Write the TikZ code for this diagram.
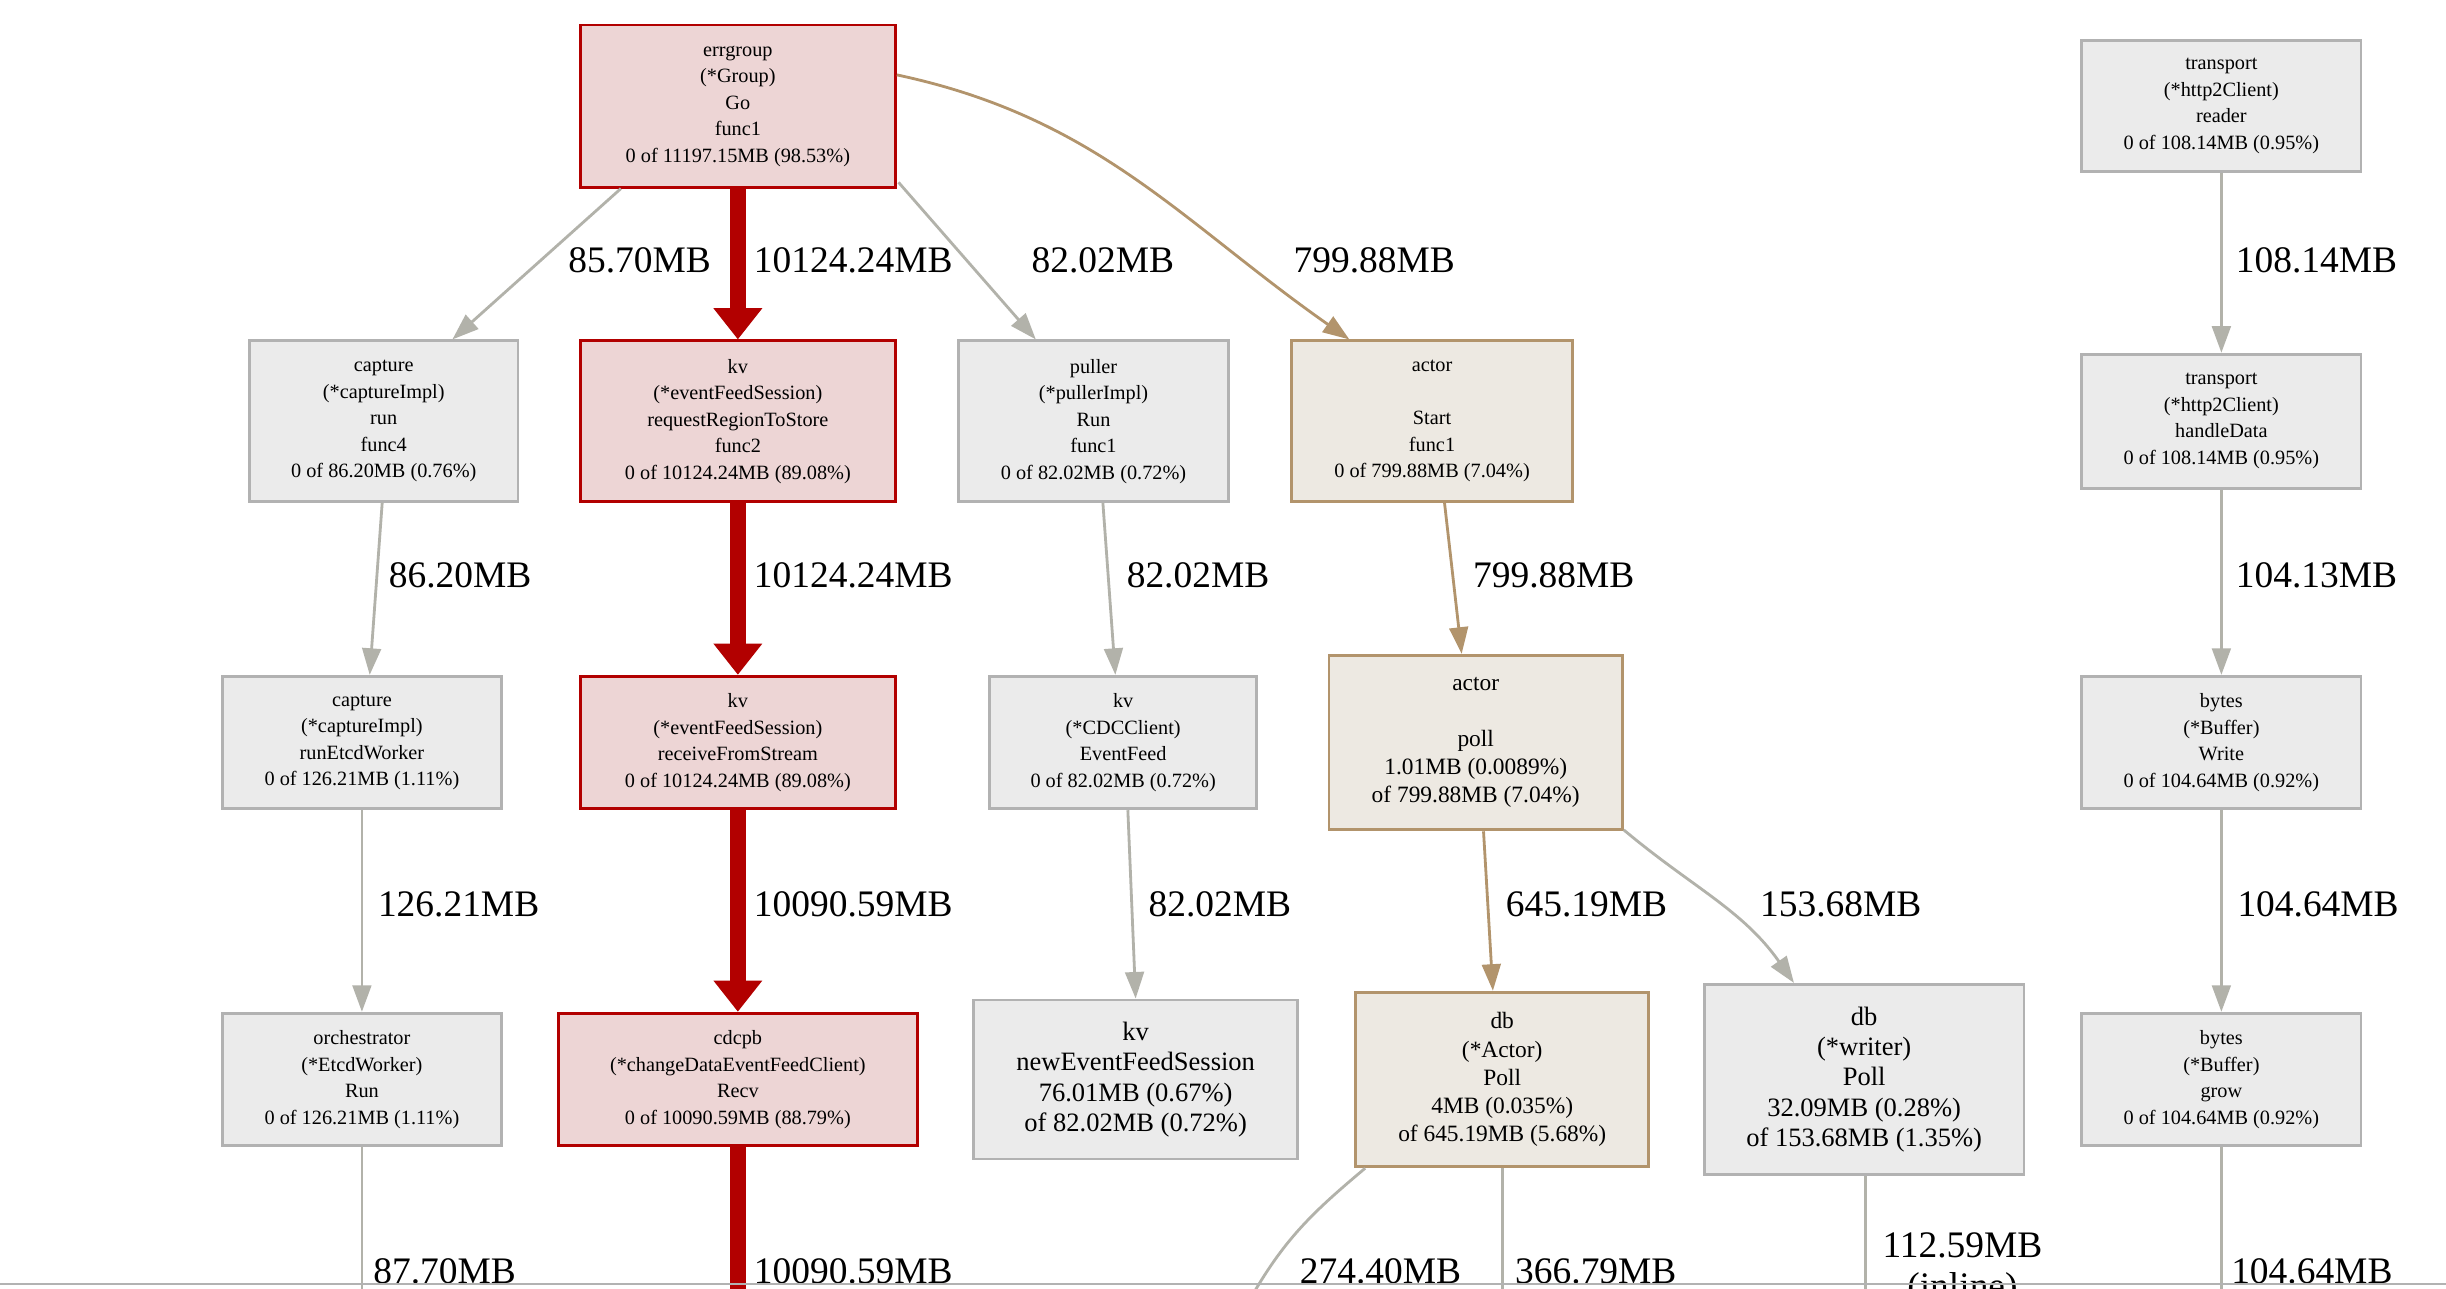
\documentclass[tikz,border=0pt]{standalone}
\usepackage{fontspec}
\setmainfont{Liberation Serif}
\usetikzlibrary{positioning, calc, arrows.meta}
\definecolor{grayfill}{HTML}{EBEBEB}
\definecolor{graydraw}{HTML}{B2B2B2}
\definecolor{redfill}{HTML}{EDD5D5}
\definecolor{reddraw}{HTML}{B20000}
\definecolor{tanfill}{HTML}{EDE9E2}
\definecolor{tandraw}{HTML}{B2946C}
\definecolor{grayedge}{HTML}{B2B2AA}
\tikzset{
  box/.style={draw=graydraw, fill=grayfill, line width=1.8pt, align=center, inner sep=2pt,
    font=\fontsize{13}{17}\selectfont},
  hotbox/.style={box, draw=reddraw, fill=redfill},
  tanbox/.style={box, draw=tandraw, fill=tanfill},
  bigtext/.style={font=\fontsize{17}{19.5}\selectfont},
  edge/.style={draw=grayedge, line width=1.8pt, -{Triangle[length=17pt,width=12pt]}},
  hotedge/.style={draw=reddraw, line width=10pt, -{Triangle[length=20pt,width=30pt]}},
  tanedge/.style={edge, draw=tandraw},
  lbl/.style={font=\fontsize{24}{26}\selectfont, inner sep=0pt}
}
\begin{document}
\begin{tikzpicture}[x=1pt,y=-1pt]
\useasboundingbox[fill=white] (0,0) rectangle (1568,826);
% nodes, row 1
\node[hotbox, minimum width=202pt, minimum height=104pt] (err) at (473,68) {errgroup\\(*Group)\\Go\\func1\\0 of 11197.15MB (98.53\%)};
\node[box, minimum width=179pt, minimum height=84pt] (tr1) at (1424,68) {transport\\(*http2Client)\\reader\\0 of 108.14MB (0.95\%)};
% row 2
\node[box, minimum width=172pt, minimum height=103pt] (cap1) at (246,270) {capture\\(*captureImpl)\\run\\func4\\0 of 86.20MB (0.76\%)};
\node[hotbox, minimum width=202pt, minimum height=103pt] (kv1) at (473,270) {kv\\(*eventFeedSession)\\requestRegionToStore\\func2\\0 of 10124.24MB (89.08\%)};
\node[box, minimum width=173pt, minimum height=103pt] (pul) at (701,270) {puller\\(*pullerImpl)\\Run\\func1\\0 of 82.02MB (0.72\%)};
\node[tanbox, minimum width=180pt, minimum height=103pt] (act1) at (918,270) {actor\\\mbox{}\\Start\\func1\\0 of 799.88MB (7.04\%)};
\node[box, minimum width=179pt, minimum height=86pt] (tr2) at (1424,270) {transport\\(*http2Client)\\handleData\\0 of 108.14MB (0.95\%)};
% row 3
\node[box, minimum width=179pt, minimum height=85pt] (cap2) at (232,476) {capture\\(*captureImpl)\\runEtcdWorker\\0 of 126.21MB (1.11\%)};
\node[hotbox, minimum width=202pt, minimum height=85pt] (kv2) at (473,476) {kv\\(*eventFeedSession)\\receiveFromStream\\0 of 10124.24MB (89.08\%)};
\node[box, minimum width=171pt, minimum height=85pt] (kv3) at (720,476) {kv\\(*CDCClient)\\EventFeed\\0 of 82.02MB (0.72\%)};
\node[tanbox, font=\fontsize{15}{18}\selectfont, minimum width=188pt, minimum height=112pt] (act2) at (946,476) {actor\\\mbox{}\\poll\\1.01MB (0.0089\%)\\of 799.88MB (7.04\%)};
\node[box, minimum width=179pt, minimum height=85pt] (by1) at (1424,476) {bytes\\(*Buffer)\\Write\\0 of 104.64MB (0.92\%)};
% row 4
\node[box, minimum width=179pt, minimum height=85pt] (orc) at (232,692) {orchestrator\\(*EtcdWorker)\\Run\\0 of 126.21MB (1.11\%)};
\node[hotbox, minimum width=230pt, minimum height=85pt] (cdc) at (473,692) {cdcpb\\(*changeDataEventFeedClient)\\Recv\\0 of 10090.59MB (88.79\%)};
\node[box, bigtext, minimum width=208pt, minimum height=102pt] (kv4) at (728,692) {kv\\newEventFeedSession\\76.01MB (0.67\%)\\of 82.02MB (0.72\%)};
\node[tanbox, font=\fontsize{15}{18}\selectfont, minimum width=188pt, minimum height=112pt] (db1) at (963,692) {db\\(*Actor)\\Poll\\4MB (0.035\%)\\of 645.19MB (5.68\%)};
\node[box, bigtext, minimum width=205pt, minimum height=122pt] (db2) at (1195,692) {db\\(*writer)\\Poll\\32.09MB (0.28\%)\\of 153.68MB (1.35\%)};
\node[box, minimum width=179pt, minimum height=85pt] (by2) at (1424,692) {bytes\\(*Buffer)\\grow\\0 of 104.64MB (0.92\%)};
% free ends at the bottom
\coordinate (e1) at (232,830);
\coordinate (e2) at (473,830);
\coordinate (e3) at (803,830);
\coordinate (e4) at (963,830);
\coordinate (e5) at (1196,830);
\coordinate (e6) at (1424,830);
% connectors
\draw[edge] ([xshift=-75pt]err.south) -- ([xshift=44pt]cap1.north);
\draw[hotedge] (err) -- (kv1);
\draw[edge] ([xshift=103pt,yshift=4pt]err.south) -- ([xshift=-37pt]pul.north);
\draw[tanedge] ([yshift=20pt]err.east) to[out=-12,in=145] ([xshift=-53pt]act1.north);
\draw[edge] (tr1) -- (tr2);
\draw[edge] ([xshift=-1pt]cap1.south) -- ([xshift=5pt]cap2.north);
\draw[hotedge] (kv1) -- (kv2);
\draw[edge] ([xshift=6pt]pul.south) -- ([xshift=-5pt]kv3.north);
\draw[tanedge] ([xshift=8pt]act1.south) -- ([xshift=-9pt]act2.north);
\draw[edge] (tr2) -- (by1);
\draw[edge] (cap2) -- (orc);
\draw[hotedge] (kv2) -- (cdc);
\draw[edge] ([xshift=3pt]kv3.south) -- (kv4.north);
\draw[tanedge] ([xshift=5pt]act2.south) -- ([xshift=-6pt]db1.north);
\draw[edge] ([yshift=-56pt]act2.east) to[out=-40,in=125] ([xshift=-45pt]db2.north);
\draw[edge] (by1) -- (by2);
\draw[draw=grayedge, line width=1.8pt] (orc) -- (e1);
\draw[draw=reddraw, line width=10pt] (cdc) -- (e2);
\draw[draw=grayedge, line width=1.8pt] ([xshift=7pt]db1.south west) to[out=-140,in=60] (e3);
\draw[draw=grayedge, line width=1.8pt] (db1.south) -- (e4);
\draw[draw=grayedge, line width=1.8pt] ([xshift=1pt]db2.south) -- (e5);
\draw[draw=grayedge, line width=1.8pt] (by2) -- (e6);
% edge labels
\node[lbl] at (410,167) {85.70MB};
\node[lbl] at (547,167) {10124.24MB};
\node[lbl] at (707,167) {82.02MB};
\node[lbl] at (881,167) {799.88MB};
\node[lbl] at (1485,167) {108.14MB};
\node[lbl] at (295,369) {86.20MB};
\node[lbl] at (547,369) {10124.24MB};
\node[lbl] at (768,369) {82.02MB};
\node[lbl] at (996,369) {799.88MB};
\node[lbl] at (1485,369) {104.13MB};
\node[lbl] at (294,580) {126.21MB};
\node[lbl] at (547,580) {10090.59MB};
\node[lbl] at (782,580) {82.02MB};
\node[lbl] at (1017,580) {645.19MB};
\node[lbl] at (1180,580) {153.68MB};
\node[lbl] at (1486,580) {104.64MB};
\node[lbl] at (285,815) {87.70MB};
\node[lbl] at (547,815) {10090.59MB};
\node[lbl] at (885,815) {274.40MB};
\node[lbl] at (1023,815) {366.79MB};
\node[lbl, align=center] at (1258,814) {112.59MB\\(inline)};
\node[lbl] at (1482,815) {104.64MB};
\draw[graydraw, line width=1pt] (0,823) -- (1568,823);
\end{tikzpicture}
\end{document}
